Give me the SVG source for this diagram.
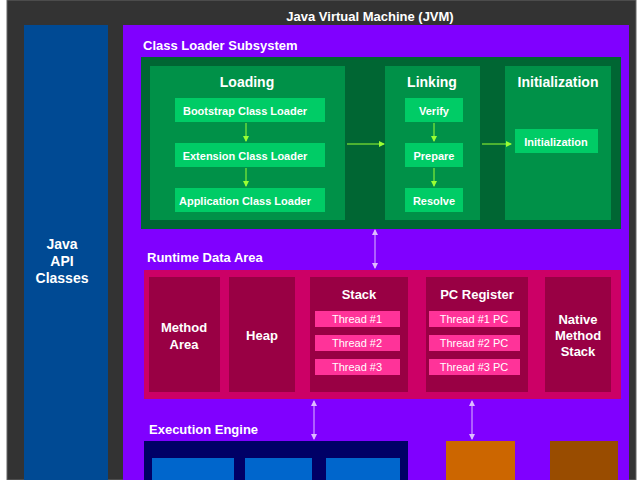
<svg xmlns="http://www.w3.org/2000/svg" width="643" height="480" viewBox="0 0 643 480">
<defs>
<style>
text{font-family:"Liberation Sans",Arial,sans-serif;font-weight:bold;fill:#fff;text-anchor:middle}
.t{font-size:13px}.s{font-size:11px}.h{font-size:14px}
.lg{fill:#00cc66}.th{fill:#ff3399}.dk{fill:#990044}
.ga{stroke:#99ff33;stroke-width:1;fill:none}
.pa{stroke:#ddbbff;stroke-width:1;fill:none}
</style>
<marker id="ag" markerWidth="6" markerHeight="6" refX="5" refY="3" orient="auto"><path d="M0,0L6,3L0,6z" fill="#99ff33"/></marker>
<marker id="ap" markerWidth="6" markerHeight="6" refX="5" refY="3" orient="auto-start-reverse"><path d="M0,0L6,3L0,6z" fill="#ddbbff"/></marker>
</defs>
<rect x="0" y="0" width="643" height="480" fill="#fff"/>
<rect x="7" y="0" width="629" height="480" fill="#333" stroke="#666"/>
<text x="370" y="21" class="t">Java Virtual Machine (JVM)</text>
<g id="api"><rect x="24" y="25" width="84" height="455" fill="#004a94"/>
<text x="62" y="249" class="h">Java</text><text x="62" y="266" class="h">API</text><text x="62" y="283" class="h">Classes</text></g>
<rect x="123" y="25" width="506" height="455" fill="#8000ff"/>
<g id="cls"><text x="143" y="50" class="t" style="text-anchor:start">Class Loader Subsystem</text>
<rect x="141" y="57" width="480" height="172" fill="#006633"/></g>
<g id="loading"><rect x="150" y="66" width="195" height="154" fill="#009148"/><text x="247" y="87" class="h">Loading</text></g>
<g id="boot"><rect x="175" y="98" width="150" height="24" class="lg"/><text x="245" y="115" class="s">Bootstrap Class Loader</text></g>
<g id="ext"><rect x="175" y="143" width="150" height="24" class="lg"/><text x="245" y="160" class="s">Extension Class Loader</text></g>
<g id="app"><rect x="175" y="188" width="150" height="24" class="lg"/><text x="245" y="205" class="s">Application Class Loader</text></g>
<g id="linking"><rect x="385" y="66" width="95" height="154" fill="#009148"/><text x="432" y="87" class="h">Linking</text></g>
<g id="verify"><rect x="405" y="98" width="58" height="24" class="lg"/><text x="434" y="115" class="s">Verify</text></g>
<g id="prepare"><rect x="405" y="143" width="58" height="24" class="lg"/><text x="434" y="160" class="s">Prepare</text></g>
<g id="resolve"><rect x="405" y="188" width="58" height="24" class="lg"/><text x="434" y="205" class="s">Resolve</text></g>
<g id="init"><rect x="505" y="66" width="106" height="154" fill="#009148"/><text x="558" y="87" class="h">Initialization</text></g>
<g id="init2"><rect x="515" y="129" width="83" height="24" class="lg"/><text x="556" y="146" class="s">Initialization</text></g>
<g id="rda"><text x="147" y="262" class="t" style="text-anchor:start">Runtime Data Area</text>
<rect x="144" y="270" width="477" height="129" fill="#cc0066"/></g>
<g id="method"><rect x="149" y="277" width="71" height="115" class="dk"/><text x="184" y="332" class="t">Method</text><text x="184" y="349" class="t">Area</text></g>
<g id="heap"><rect x="229" y="277" width="66" height="115" class="dk"/><text x="262" y="340" class="t">Heap</text></g>
<g id="stack"><rect x="310" y="277" width="98" height="115" class="dk"/><text x="359" y="299" class="t">Stack</text>
<rect x="315" y="311" width="85" height="16" class="th"/><text x="357" y="323" class="s" style="font-weight:normal">Thread #1</text>
<rect x="315" y="335" width="85" height="16" class="th"/><text x="357" y="347" class="s" style="font-weight:normal">Thread #2</text>
<rect x="315" y="359" width="85" height="16" class="th"/><text x="357" y="371" class="s" style="font-weight:normal">Thread #3</text></g>
<g id="pc"><rect x="426" y="277" width="102" height="115" class="dk"/><text x="477" y="299" class="t">PC Register</text>
<rect x="429" y="311" width="91" height="16" class="th"/><text x="474" y="323" class="s" style="font-weight:normal">Thread #1 PC</text>
<rect x="429" y="335" width="91" height="16" class="th"/><text x="474" y="347" class="s" style="font-weight:normal">Thread #2 PC</text>
<rect x="429" y="359" width="91" height="16" class="th"/><text x="474" y="371" class="s" style="font-weight:normal">Thread #3 PC</text></g>
<g id="native"><rect x="545" y="277" width="66" height="115" class="dk"/><text x="578" y="324" class="t">Native</text><text x="578" y="340" class="t">Method</text><text x="578" y="356" class="t">Stack</text></g>
<g id="ee"><text x="149" y="434" class="t" style="text-anchor:start">Execution Engine</text>
<rect x="144" y="441" width="264" height="39" fill="#000066"/>
<rect x="152" y="458" width="82" height="22" fill="#0066cc"/>
<rect x="245" y="458" width="67" height="22" fill="#0066cc"/>
<rect x="326" y="458" width="74" height="22" fill="#0066cc"/></g>
<g id="orange"><rect x="446" y="441" width="69" height="39" fill="#cc6600"/></g>
<g id="brown"><rect x="550" y="441" width="68" height="39" fill="#994c00"/></g>
<g id="connectors">
<line x1="246" y1="123" x2="246" y2="141" class="ga" marker-end="url(#ag)"/>
<line x1="246" y1="168" x2="246" y2="186" class="ga" marker-end="url(#ag)"/>
<line x1="434" y1="123" x2="434" y2="141" class="ga" marker-end="url(#ag)"/>
<line x1="434" y1="168" x2="434" y2="186" class="ga" marker-end="url(#ag)"/>
<line x1="347" y1="144" x2="384" y2="144" class="ga" marker-end="url(#ag)"/>
<line x1="482" y1="144" x2="511" y2="144" class="ga" marker-end="url(#ag)"/>
<line x1="375" y1="230" x2="375" y2="268" class="pa" marker-start="url(#ap)" marker-end="url(#ap)"/>
<line x1="314" y1="401" x2="314" y2="439" class="pa" marker-start="url(#ap)" marker-end="url(#ap)"/>
<line x1="472" y1="401" x2="472" y2="439" class="pa" marker-start="url(#ap)" marker-end="url(#ap)"/>
</g>
</svg>
